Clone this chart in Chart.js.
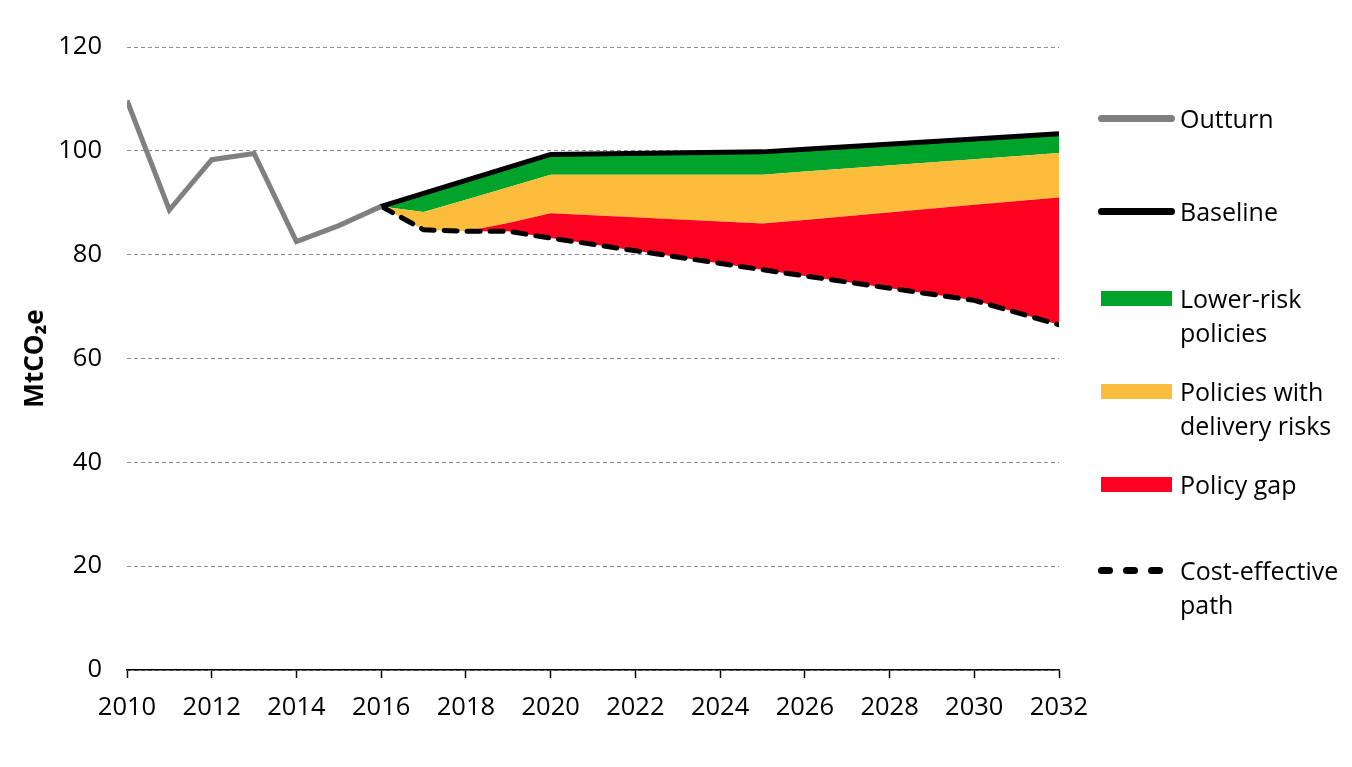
<!DOCTYPE html>
<html lang="en">
<head>
    <meta charset="UTF-8">
    <title>Emissions projections vs cost-effective path</title>
    <style>
        * {
            margin: 0;
            padding: 0;
            box-sizing: border-box;
        }

        body {
            width: 1352px;
            height: 767px;
            background-color: #fff;
            font-family: "Open Sans", Arial, sans-serif;
            position: relative;
            overflow: hidden;
        }

        .chart-box {
            position: absolute;
            left: 0;
            top: 0;
            width: 1352px;
            height: 767px;
        }

        .legend-item {
            position: absolute;
            left: 1180px;
            font-size: 25px;
            line-height: 34px;
            color: #000;
            white-space: nowrap;
        }

        .legend-item .sym {
            position: absolute;
            left: -82px;
        }

        .sym.line {
            width: 77px;
            height: 7px;
            top: 13.5px;
            border-radius: 4px;
        }

        .sym.patch {
            left: -79px;
            width: 71px;
            height: 15px;
            top: 9.5px;
        }

        .sym.dash {
            width: 15px;
            height: 7px;
            top: 13.5px;
            border-radius: 4px;
            background: #000;
        }
    </style>
</head>
<body>
    <div class="chart-box">
        <canvas id="gapChart"></canvas>
    </div>

    <div class="legend-item" style="top: 101px;"><span class="sym line" style="background:#808080;"></span>Outturn</div>
    <div class="legend-item" style="top: 194px;"><span class="sym line" style="background:#000;"></span>Baseline</div>
    <div class="legend-item" style="top: 281px;"><span class="sym patch" style="background:#00a32a;"></span>Lower-risk<br>policies</div>
    <div class="legend-item" style="top: 374px;"><span class="sym patch" style="background:#fbbd3b;"></span>Policies with<br>delivery risks</div>
    <div class="legend-item" style="top: 467px;"><span class="sym patch" style="background:#ff0021;"></span>Policy gap</div>
    <div class="legend-item" style="top: 553px;">
        <span class="sym dash"></span>
        <span class="sym dash" style="left:-57px;"></span>
        <span class="sym dash" style="left:-32px;"></span>
        Cost-effective<br>path
    </div>

    <script src="https://cdn.jsdelivr.net/npm/chart.js"></script>
    <script>
        // historic emissions
        const outturnYears = [2010, 2011, 2012, 2013, 2014, 2015, 2016];
        const outturn = [109.7, 88.6, 98.3, 99.5, 82.5, 85.6, 89.3];

        // projections (MtCO2e)
        const projYears = [2016, 2017, 2018, 2019, 2020, 2025, 2026, 2030, 2032];
        const baseline = [89.3, 91.8, 94.3, 96.8, 99.3, 99.8, 100.3, 102.3, 103.3];
        const lowerRiskBottom = [89.3, 88.2, 90.6, 93.0, 95.4, 95.4, 96.0, 98.4, 99.6];
        const policyGapTop = [89.3, 84.8, 84.5, 86.1, 88.0, 86.0, 86.7, 89.6, 91.0];
        const costEffective = [89.3, 84.8, 84.5, 84.5, 83.2, 77.1, 75.9, 71.2, 66.5];

        const yTicks = [0, 20, 40, 60, 80, 100, 120];

        function pts(xs, ys) {
            return xs.map((x, i) => ({ x: x, y: ys[i] }));
        }

        const font = { family: '"Open Sans", Arial, sans-serif', size: 25.5 };

        new Chart(document.getElementById('gapChart'), {
            type: 'line',
            data: {
                datasets: [
                    {
                        label: 'Outturn',
                        data: pts(outturnYears, outturn),
                        borderColor: '#808080',
                        borderWidth: 5,
                        pointRadius: 0,
                        fill: false
                    },
                    {
                        label: 'Baseline',
                        data: pts(projYears, baseline),
                        borderColor: '#000',
                        borderWidth: 5,
                        pointRadius: 0,
                        fill: false
                    },
                    {
                        label: 'Cost-effective path',
                        data: pts(projYears, costEffective),
                        borderColor: '#000',
                        borderWidth: 5,
                        borderDash: [13, 10],
                        borderCapStyle: 'round',
                        pointRadius: 0,
                        fill: false
                    },
                    {
                        label: 'Policy gap',
                        data: pts(projYears, policyGapTop),
                        borderWidth: 0,
                        pointRadius: 0,
                        backgroundColor: '#ff0021',
                        fill: 2
                    },
                    {
                        label: 'Policies with delivery risks',
                        data: pts(projYears, lowerRiskBottom),
                        borderWidth: 0,
                        pointRadius: 0,
                        backgroundColor: '#fbbd3b',
                        fill: 3
                    },
                    {
                        label: 'Lower-risk policies',
                        data: pts(projYears, baseline),
                        borderWidth: 0,
                        pointRadius: 0,
                        backgroundColor: '#00a32a',
                        fill: 4
                    }
                ]
            },
            options: {
                responsive: true,
                maintainAspectRatio: false,
                animation: false,
                layout: {
                    padding: { left: 16, top: 47, right: 293, bottom: 48 }
                },
                plugins: {
                    legend: { display: false },
                    tooltip: { enabled: false },
                    filler: { drawTime: 'beforeDatasetsDraw' }
                },
                scales: {
                    x: {
                        type: 'linear',
                        min: 2010,
                        max: 2032,
                        afterFit: axis => { axis.height = 49; },
                        border: { display: true, color: '#000', width: 1.5 },
                        grid: {
                            drawOnChartArea: false,
                            drawTicks: true,
                            tickLength: 8,
                            tickWidth: 1.5,
                            tickColor: '#000'
                        },
                        ticks: {
                            stepSize: 2,
                            padding: 14,
                            color: '#000',
                            font: font,
                            maxRotation: 0,
                            callback: v => String(v)
                        }
                    },
                    y: {
                        min: 0,
                        max: 120,
                        afterBuildTicks: axis => {
                            axis.ticks = yTicks.map(v => ({ value: v }));
                        },
                        afterFit: axis => { axis.width = 111; },
                        border: { display: false, dash: [4, 3] },
                        grid: {
                            color: '#8c8c8c',
                            lineWidth: 1,
                            drawTicks: false
                        },
                        ticks: {
                            padding: 25,
                            color: '#000',
                            font: font
                        },
                        title: {
                            display: true,
                            text: 'MtCO₂e',
                            color: '#000',
                            font: { family: '"Open Sans", Arial, sans-serif', size: 26, weight: 'bold' },
                            padding: { top: 4, bottom: 12 }
                        }
                    }
                }
            }
        });
    </script>
</body>
</html>
